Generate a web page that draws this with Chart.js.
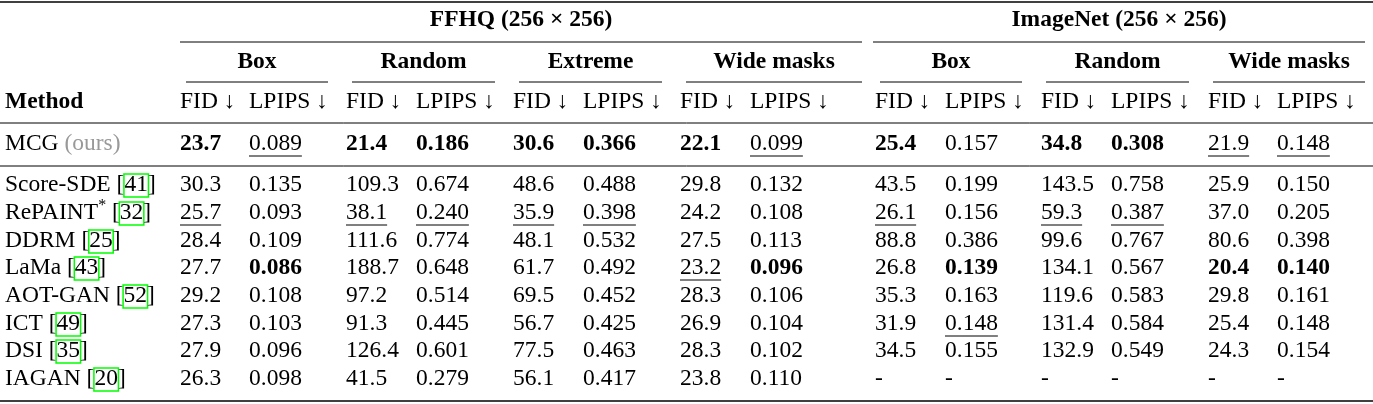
<!DOCTYPE html>
<html><head><meta charset="utf-8">
<script src="https://cdn.jsdelivr.net/npm/chart.js@4.4.0/dist/chart.umd.min.js"></script>
<style>html,body{margin:0;padding:0;background:#fff}canvas{display:block}</style>
</head><body>
<canvas id="c" width="1373" height="404"></canvas>
<script>
// ---- data ( * = bold, _ = underline ) ----
const methods = ["MCG (ours)","Score-SDE [41]","RePAINT* [32]","DDRM [25]","LaMa [43]","AOT-GAN [52]","ICT [49]","DSI [35]","IAGAN [20]"];
const ffhqBoxFID   = ["*23.7","30.3","_25.7","28.4","27.7","29.2","27.3","27.9","26.3"];
const ffhqBoxLPIPS = ["_0.089","0.135","0.093","0.109","*0.086","0.108","0.103","0.096","0.098"];
const ffhqRandFID  = ["*21.4","109.3","_38.1","111.6","188.7","97.2","91.3","126.4","41.5"];
const ffhqRandLPIPS= ["*0.186","0.674","_0.240","0.774","0.648","0.514","0.445","0.601","0.279"];
const ffhqExtFID   = ["*30.6","48.6","_35.9","48.1","61.7","69.5","56.7","77.5","56.1"];
const ffhqExtLPIPS = ["*0.366","0.488","_0.398","0.532","0.492","0.452","0.425","0.463","0.417"];
const ffhqWideFID  = ["*22.1","29.8","24.2","27.5","_23.2","28.3","26.9","28.3","23.8"];
const ffhqWideLPIPS= ["_0.099","0.132","0.108","0.113","*0.096","0.106","0.104","0.102","0.110"];
const inBoxFID     = ["*25.4","43.5","_26.1","88.8","26.8","35.3","31.9","34.5","-"];
const inBoxLPIPS   = ["0.157","0.199","0.156","0.386","*0.139","0.163","_0.148","0.155","-"];
const inRandFID    = ["*34.8","143.5","_59.3","99.6","134.1","119.6","131.4","132.9","-"];
const inRandLPIPS  = ["*0.308","0.758","_0.387","0.767","0.567","0.583","0.584","0.549","-"];
const inWideFID    = ["_21.9","25.9","37.0","80.6","*20.4","29.8","25.4","24.3","-"];
const inWideLPIPS  = ["_0.148","0.150","0.205","0.398","*0.140","0.161","0.148","0.154","-"];
const datasetsTitles = ["FFHQ (256 × 256)","ImageNet (256 × 256)"];
const groupTitles = ["Box","Random","Extreme","Wide masks","Box","Random","Wide masks"];
const metricTitles = ["FID ↓","LPIPS ↓"];

// ---- layout ----
const columns = [ffhqBoxFID,ffhqBoxLPIPS,ffhqRandFID,ffhqRandLPIPS,ffhqExtFID,ffhqExtLPIPS,ffhqWideFID,ffhqWideLPIPS,
  inBoxFID,inBoxLPIPS,inRandFID,inRandLPIPS,inWideFID,inWideLPIPS];
const colX = [180,249,346,416,513,583,680,750,875,945,1041,1111,1208,1277];
const rowY = [144,185,213,241,268,296,324,351,379];
const groupSpans = [[186,328],[352,495],[519,662],[686,862],[880,1022],[1046,1189],[1213,1365]];
const dsSpans = [[180,862],[873,1365]];
const FONT = '23.5px "Liberation Serif"', BFONT = 'bold 23.5px "Liberation Serif"';

const tablePlugin = {
  id:'table',
  afterDraw(chart){
    const ctx = chart.ctx, xs = chart.scales.x, ys = chart.scales.y;
    const X = v=>xs.getPixelForValue(v), Y = v=>ys.getPixelForValue(v);
    ctx.save(); ctx.fillStyle='#000'; ctx.strokeStyle='#000'; ctx.textBaseline='middle';
    const hline=(x1,x2,y,w)=>{ctx.lineWidth=w;ctx.beginPath();ctx.moveTo(X(x1),Y(y));ctx.lineTo(X(x2),Y(y));ctx.stroke();};
    hline(0,1373,2,1.5); hline(0,1373,123,1); hline(0,1373,166,1); hline(0,1373,401,1.5);
    dsSpans.forEach(s=>hline(s[0],s[1],42,1)); groupSpans.forEach(s=>hline(s[0],s[1],82,1));
    ctx.textAlign='center';
    ctx.font=BFONT;
    datasetsTitles.forEach((t,i)=>{const [a,b]=dsSpans[i]; ctx.fillText(t,(X(a)+X(b))/2,Y(20));});
    groupTitles.forEach((t,i)=>{const [a,b]=groupSpans[i]; ctx.fillText(t,(X(a)+X(b))/2,Y(62));});
    ctx.textAlign='left';
    ctx.fillText('Method',X(5),Y(102));
    ctx.font=FONT;
    colX.forEach((x,i)=>ctx.fillText(metricTitles[i%2],X(x),Y(102)));
    methods.forEach((m,r)=>{
      let x=X(5), y=Y(rowY[r]); ctx.font=FONT;
      const mm=m.match(/^(.*?)( \[(\d+)\])?$/); let name=mm[1];
      if(name.includes('(ours)')){
        const base=name.replace(' (ours)',' ');
        ctx.fillStyle='#000'; ctx.fillText(base,x,y); x+=ctx.measureText(base).width;
        ctx.fillStyle='#999'; ctx.fillText('(ours)',x,y); ctx.fillStyle='#000'; return;
      }
      if(name.endsWith('*')){ name=name.slice(0,-1); ctx.fillText(name,x,y); x+=ctx.measureText(name).width;
        ctx.font='16px "Liberation Serif"'; ctx.fillText('*',x,y-7); x+=ctx.measureText('*').width; ctx.font=FONT; }
      else { ctx.fillText(name,x,y); x+=ctx.measureText(name).width; }
      if(mm[3]){
        ctx.fillText(' [',x,y); x+=ctx.measureText(' [').width;
        const w=ctx.measureText(mm[3]).width;
        ctx.strokeStyle='#00ff00'; ctx.lineWidth=1.5; ctx.strokeRect(x-0.5,y-11,w+1,23); ctx.strokeStyle='#000';
        ctx.fillText(mm[3],x,y); x+=w; ctx.fillText(']',x,y);
      }
    });
    chart.data.datasets.forEach(ds=>{
      ds.data.forEach(p=>{
        let t=p.label, bold=false, ul=false;
        if(t[0]==='*'){bold=true;t=t.slice(1);} else if(t[0]==='_'){ul=true;t=t.slice(1);}
        ctx.font=bold?BFONT:FONT; const px=X(p.x), py=Y(p.y);
        ctx.fillText(t,px,py);
        if(ul){const w=ctx.measureText(t).width; ctx.lineWidth=1; ctx.beginPath(); ctx.moveTo(px,py+12); ctx.lineTo(px+w,py+12); ctx.stroke();}
      });
    });
    ctx.restore();
  }
};

new Chart(document.getElementById('c'),{
  type:'scatter',
  data:{datasets:columns.map((col,i)=>({data:col.map((v,r)=>({x:colX[i],y:rowY[r],label:v})),pointRadius:0}))},
  options:{responsive:false,animation:false,events:[],layout:{padding:0},
    plugins:{legend:{display:false},tooltip:{enabled:false}},
    scales:{x:{type:'linear',min:0,max:1373,display:false},y:{type:'linear',min:0,max:404,reverse:true,display:false}}},
  plugins:[tablePlugin]
});
</script></body></html>
